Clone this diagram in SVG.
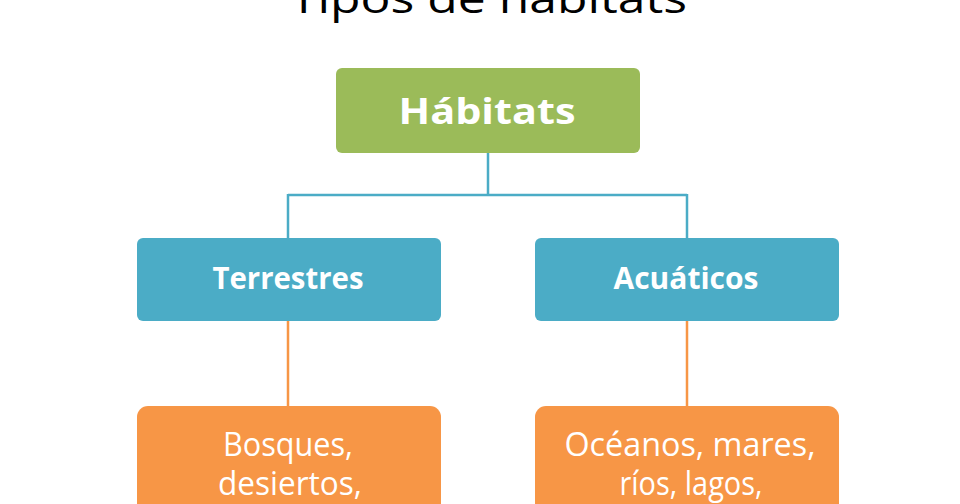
<svg xmlns="http://www.w3.org/2000/svg" width="960" height="504" viewBox="0 0 960 504">
<style>
.bg{fill:#ffffff}
.title{font-family:"Open Sans","Liberation Sans",sans-serif;font-size:40px;fill:#000000}
.bold{font-family:"Open Sans","Liberation Sans",sans-serif;font-weight:bold;fill:#ffffff;text-anchor:middle}
.reg{font-family:"Open Sans","Liberation Sans",sans-serif;font-size:32px;fill:#ffffff;text-anchor:middle}
.green{fill:#9BBB59}
.blue{fill:#4BACC6}
.orange{fill:#F79646}
.cb{fill:none;stroke:#4BACC6;stroke-width:2.5}
.co{fill:none;stroke:#F79646;stroke-width:2.5}
</style>
<rect class="bg" x="0" y="0" width="960" height="504"/>
<text class="title" x="290" y="13" textLength="397" lengthAdjust="spacingAndGlyphs">Tipos de hábitats</text>
<g id="connectors">
<path class="cb" d="M488 153 V195 M288 195 H687 M288 194 V238 M687 194 V238"/>
<path class="co" d="M288 321 V406 M687 321 V406"/>
</g>
<g id="habitats">
<rect class="green" x="336" y="68" width="304" height="85" rx="6"/>
<text class="bold" x="487" y="124" font-size="36" textLength="177" lengthAdjust="spacingAndGlyphs">Hábitats</text>
</g>
<g id="terrestres">
<rect class="blue" x="137" y="238" width="304" height="83" rx="6"/>
<text class="bold" x="288" y="289" font-size="31" textLength="151" lengthAdjust="spacingAndGlyphs">Terrestres</text>
</g>
<g id="acuaticos">
<rect class="blue" x="535" y="238" width="304" height="83" rx="6"/>
<text class="bold" x="686" y="289" font-size="31" textLength="145" lengthAdjust="spacingAndGlyphs">Acuáticos</text>
</g>
<g id="terrestres-ejemplos">
<rect class="orange" x="137" y="406" width="304" height="140" rx="11"/>
<text class="reg" x="288" y="456" textLength="130" lengthAdjust="spacingAndGlyphs">Bosques,</text>
<text class="reg" x="290" y="495" textLength="144" lengthAdjust="spacingAndGlyphs">desiertos,</text>
</g>
<g id="acuaticos-ejemplos">
<rect class="orange" x="535" y="406" width="304" height="140" rx="11"/>
<text class="reg" x="690" y="456" textLength="251" lengthAdjust="spacingAndGlyphs">Océanos, mares,</text>
<text class="reg" x="691" y="495" textLength="143" lengthAdjust="spacingAndGlyphs">ríos, lagos,</text>
</g>
</svg>
